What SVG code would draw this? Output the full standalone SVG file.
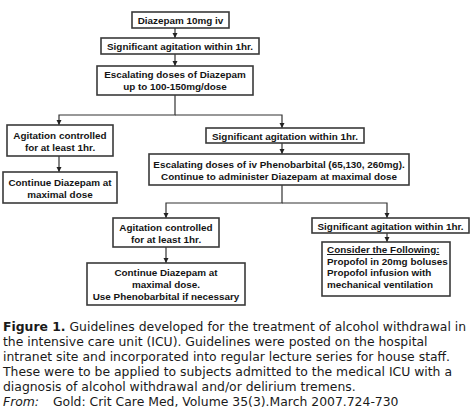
<svg xmlns="http://www.w3.org/2000/svg" width="474" height="417" viewBox="0 0 474 417">
<style>
.box{fill:#fff;stroke:#3a3a3a;stroke-width:1.6}
.t{font-family:"Liberation Sans",Arial,sans-serif;font-weight:bold;font-size:9.9px;fill:#141414;text-anchor:middle}
.tl{font-family:"Liberation Sans",Arial,sans-serif;font-weight:bold;font-size:9.9px;fill:#141414}
.c{fill:none;stroke:#333;stroke-width:1.2}
.cap{font-family:"DejaVu Sans",Verdana,sans-serif;font-size:12.4px;fill:#1a1a1a}
</style>
<defs>
<marker id="ah" markerUnits="userSpaceOnUse" markerWidth="6" markerHeight="6" refX="5" refY="3" orient="auto">
<path d="M0,0.5 L5,3 L0,5.5 Z" fill="#222"/>
</marker>
</defs>
<rect width="474" height="417" fill="#fff"/>
<g id="connectors">
<path class="c" d="M175,28 V38" marker-end="url(#ah)"/>
<path class="c" d="M175,54 V66" marker-end="url(#ah)"/>
<path class="c" d="M175,95 V115 H59 V125" marker-end="url(#ah)"/>
<path class="c" d="M175,115 H282 V128" marker-end="url(#ah)"/>
<path class="c" d="M59,156 V172" marker-end="url(#ah)"/>
<path class="c" d="M282,143 V154" marker-end="url(#ah)"/>
<path class="c" d="M282,185 V203 H166 V218" marker-end="url(#ah)"/>
<path class="c" d="M282,203 H387 V218" marker-end="url(#ah)"/>
<path class="c" d="M166,247 V263" marker-end="url(#ah)"/>
<path class="c" d="M387,233 V242" marker-end="url(#ah)"/>
</g>
<g id="n1"><rect class="box" x="132" y="12" width="97" height="16"/><text class="t" x="180.5" y="24">Diazepam 10mg iv</text></g>
<g id="n2"><rect class="box" x="101" y="38" width="158" height="16"/><text class="t" x="180" y="50">Significant agitation within 1hr.</text></g>
<g id="n3"><rect class="box" x="97" y="66" width="156" height="29"/><text class="t" x="175" y="78">Escalating doses of Diazepam</text><text class="t" x="175" y="90">up to 100-150mg/dose</text></g>
<g id="n4"><rect class="box" x="7" y="125" width="106" height="31"/><text class="t" x="60" y="139">Agitation controlled</text><text class="t" x="60" y="151">for at least 1hr.</text></g>
<g id="n5"><rect class="box" x="3" y="172" width="114" height="31"/><text class="t" x="60" y="186">Continue Diazepam at</text><text class="t" x="60" y="198">maximal dose</text></g>
<g id="n6"><rect class="box" x="206" y="128" width="158" height="15"/><text class="t" x="285" y="139.5">Significant agitation within 1hr.</text></g>
<g id="n7"><rect class="box" x="149" y="154" width="260" height="31"/><text class="t" x="279" y="168">Escalating doses of iv Phenobarbital (65,130, 260mg).</text><text class="t" x="279" y="180">Continue to administer Diazepam at maximal dose</text></g>
<g id="n8"><rect class="box" x="113" y="218" width="106" height="29"/><text class="t" x="166" y="231">Agitation controlled</text><text class="t" x="166" y="243">for at least 1hr.</text></g>
<g id="n9"><rect class="box" x="87" y="263" width="158" height="42"/><text class="t" x="166" y="276">Continue Diazepam at</text><text class="t" x="166" y="288">maximal dose.</text><text class="t" x="166" y="300">Use Phenobarbital if necessary</text></g>
<g id="n10"><rect class="box" x="312" y="218" width="157" height="15"/><text class="t" x="390.5" y="229.5">Significant agitation within 1hr.</text></g>
<g id="n11"><rect class="box" x="322" y="242" width="128" height="54"/><text class="tl" x="327" y="253" text-decoration="underline">Consider the Following:</text><text class="tl" x="327" y="264.5">Propofol in 20mg boluses</text><text class="tl" x="327" y="276">Propofol infusion with</text><text class="tl" x="327" y="287.5">mechanical ventilation</text></g>
<g id="caption">
<text class="cap" x="3" y="331"><tspan font-weight="bold">Figure 1.</tspan> Guidelines developed for the treatment of alcohol withdrawal in</text>
<text class="cap" x="3" y="346">the intensive care unit (ICU). Guidelines were posted on the hospital</text>
<text class="cap" x="3" y="361">intranet site and incorporated into regular lecture series for house staff.</text>
<text class="cap" x="3" y="376">These were to be applied to subjects admitted to the medical ICU with a</text>
<text class="cap" x="3" y="391">diagnosis of alcohol withdrawal and/or delirium tremens.</text>
<text class="cap" x="3" y="406"><tspan font-style="italic">From:</tspan><tspan x="53">Gold: Crit Care Med, Volume 35(3).March 2007.724-730</tspan></text>
</g>
</svg>
